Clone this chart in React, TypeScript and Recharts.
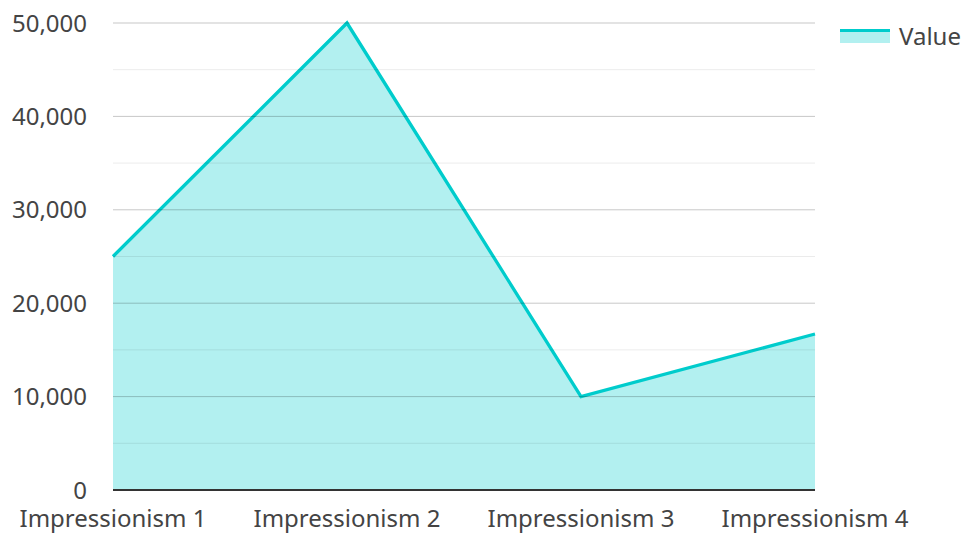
import { Area, AreaChart, ReferenceLine, XAxis, YAxis } from 'recharts';

const categories = ['Impressionism 1', 'Impressionism 2', 'Impressionism 3', 'Impressionism 4'];
const values = [25000, 50000, 10000, 16700];
const majorTicks = [0, 10000, 20000, 30000, 40000, 50000];
const minorTicks = [5000, 15000, 25000, 35000, 45000];

const data = categories.map((name, i) => ({ name, value: values[i] }));

const TEAL = '#00cccc';
const FONT = '"Noto Sans", "Open Sans", sans-serif';

export default function App() {
  return (
    <div style={{ position: 'fixed', left: 0, top: 0, width: 965, height: 533, background: '#fff', fontFamily: FONT }}>
      <AreaChart width={965} height={533} data={data} margin={{ top: 23, right: 150, bottom: 0, left: 0 }}>
        <XAxis
          dataKey="name"
          height={43}
          tickSize={0}
          tickMargin={20}
          axisLine={{ stroke: '#333', strokeWidth: 2 }}
          tickLine={false}
          interval={0}
          tick={{ fill: '#444', fontSize: 24, fontFamily: FONT }}
        />
        <YAxis
          width={113}
          domain={[0, 50000]}
          ticks={majorTicks}
          tickSize={0}
          tickMargin={26}
          axisLine={false}
          tickLine={false}
          tickFormatter={(v: number) => v.toLocaleString('en-US')}
          tick={{ fill: '#444', fontSize: 24, fontFamily: FONT }}
        />
        <Area
          type="linear"
          dataKey="value"
          stroke={TEAL}
          strokeWidth={3.3}
          fill={TEAL}
          fillOpacity={0.3}
          dot={false}
          activeDot={false}
          isAnimationActive={false}
        />
        {minorTicks.map((t) => (
          <ReferenceLine key={'m' + t} y={t} stroke="#000" strokeOpacity={0.08} strokeWidth={1} />
        ))}
        {majorTicks.slice(1).map((t) => (
          <ReferenceLine key={'M' + t} y={t} stroke="#000" strokeOpacity={0.22} strokeWidth={1} />
        ))}
      </AreaChart>
      <div style={{ position: 'absolute', left: 840, top: 24, display: 'flex', alignItems: 'center', gap: 9 }}>
        <div style={{ width: 50, height: 14, position: 'relative', background: 'rgba(0,204,204,0.3)' }}>
          <div style={{ position: 'absolute', left: 0, top: 0, width: 50, height: 3, background: TEAL }} />
        </div>
        <span style={{ fontSize: 24, color: '#444', lineHeight: '24px' }}>Value</span>
      </div>
    </div>
  );
}
